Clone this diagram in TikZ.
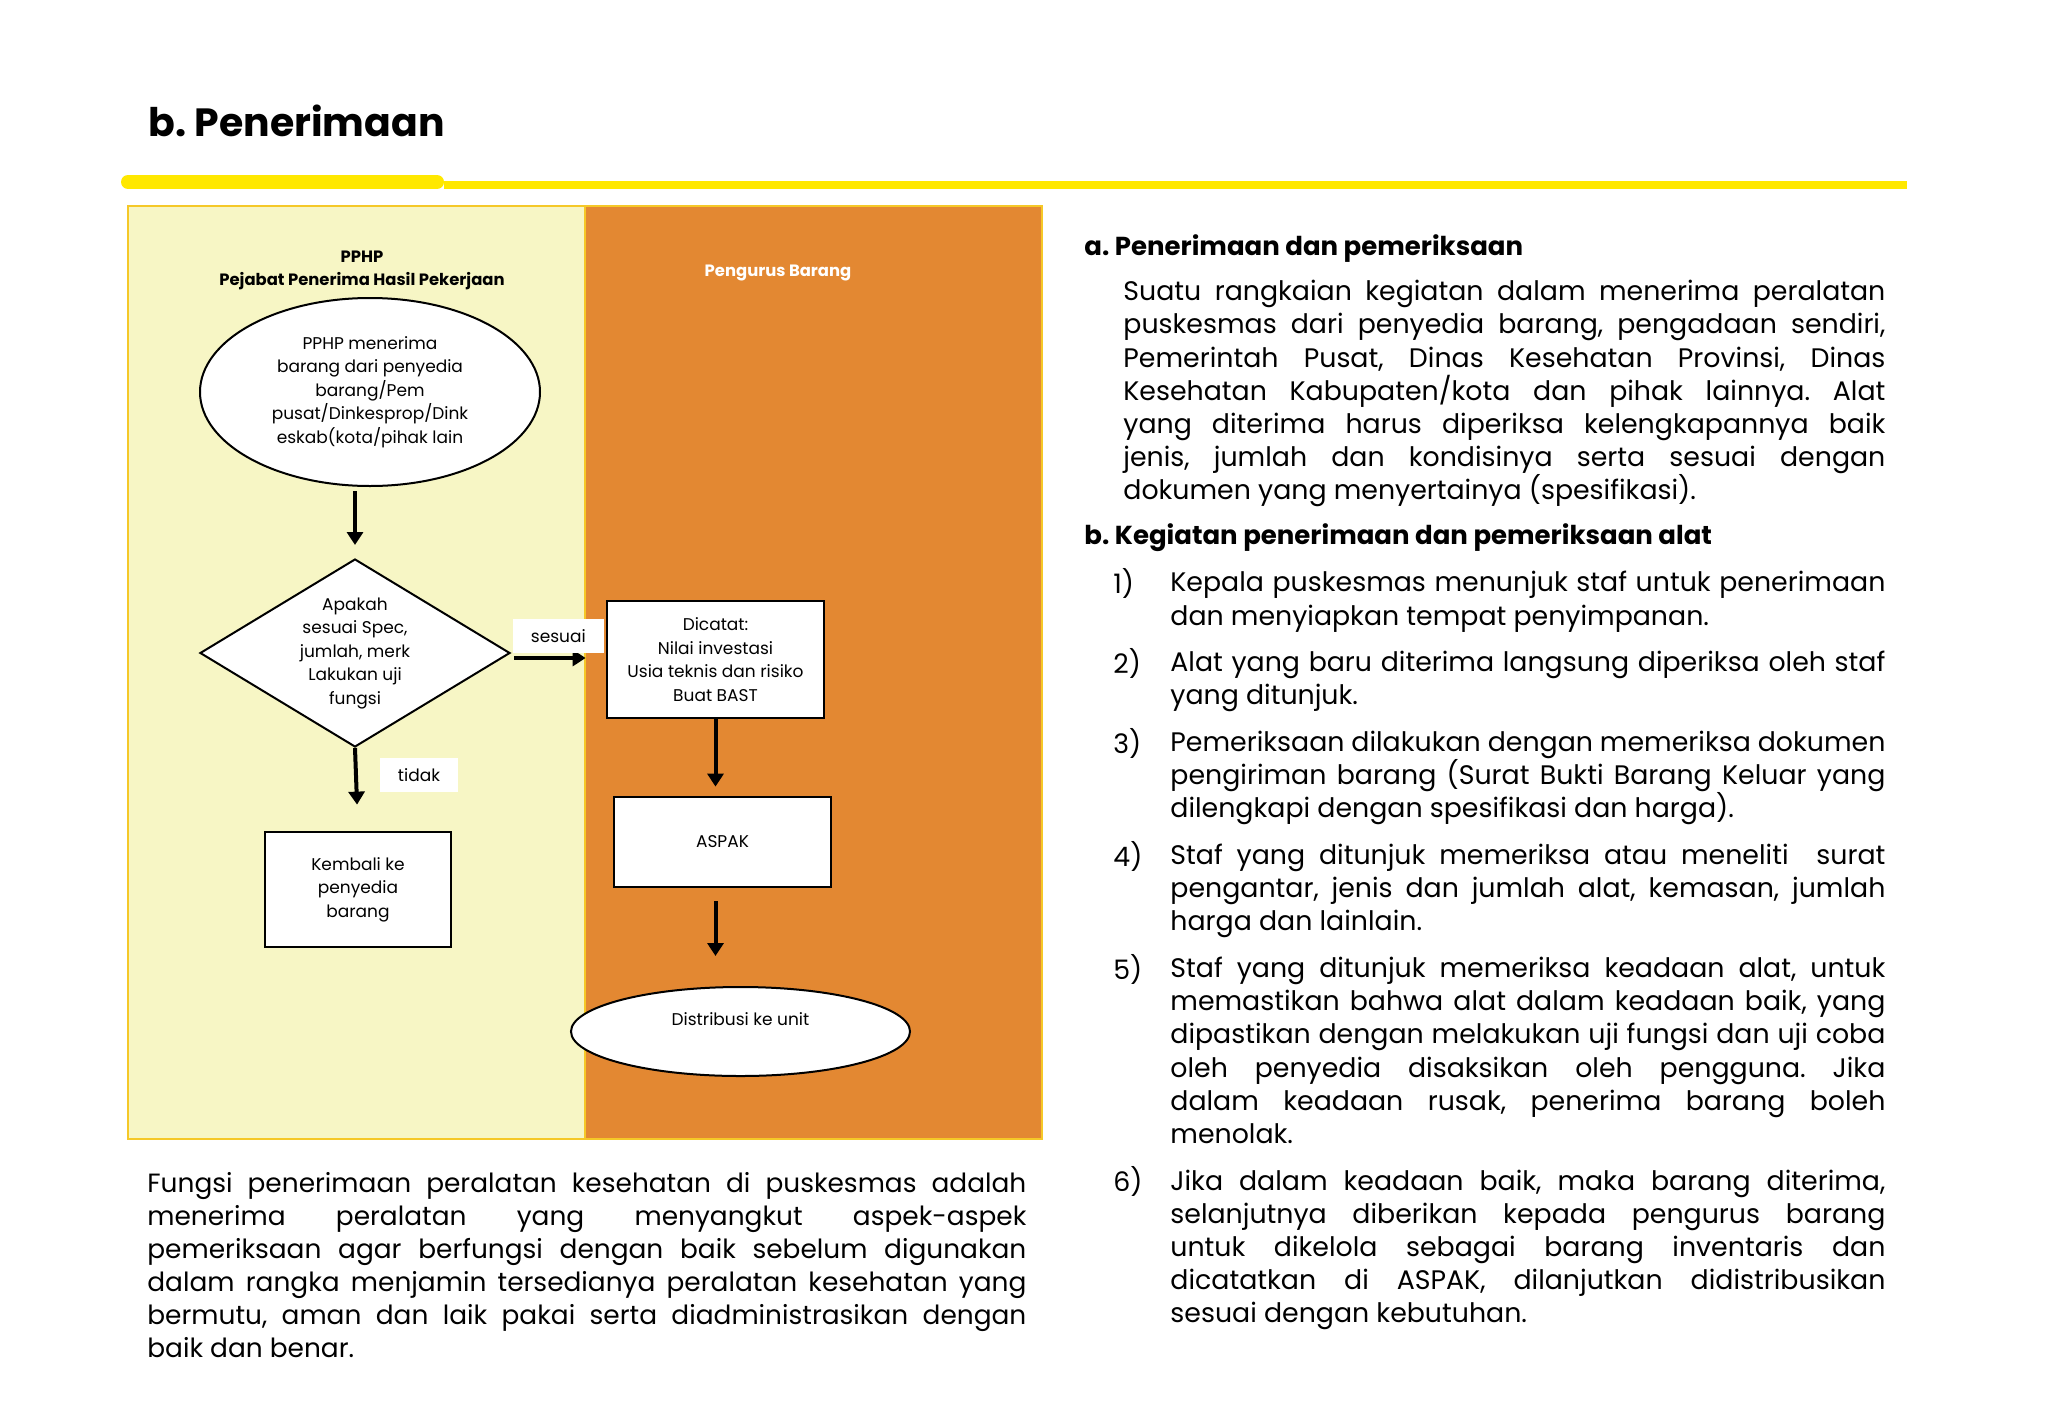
\documentclass[tikz,border=0pt]{standalone}
\usepackage{fontspec}
\setmainfont{Poppins}
\usepackage{tikz}
\usetikzlibrary{arrows.meta,positioning,shapes.geometric}
\definecolor{laneyellow}{RGB}{247,246,197}
\definecolor{laneorange}{RGB}{227,136,50}
\definecolor{laneborder}{RGB}{245,200,40}
\definecolor{baryellow}{RGB}{255,232,0}
\hyphenpenalty=10000
\exhyphenpenalty=10000
\tolerance=10000
\lineskiplimit=-100pt
\normallineskiplimit=-100pt
\lineskip=0pt
\frenchspacing
\newcommand{\parafont}{\fontsize{13.4}{16.6}\selectfont
  \lineskiplimit=-100pt\relax}

\begin{document}
\begin{tikzpicture}[x=0.5pt, y=-0.5pt,
  lane/.style={rectangle, draw=laneborder, line width=1pt,
    minimum width=228.5pt, minimum height=466.5pt, inner sep=0pt},
  lanehead/.style={font=\bfseries\fontsize{8.2}{11.5}\selectfont,
    align=center},
  flowtext/.style={font=\fontsize{8.5}{11.75}\selectfont},
  terminal/.style={ellipse, draw, line width=1pt, fill=white,
    align=center, inner sep=0pt, flowtext},
  decision/.style={diamond, draw, line width=1pt, fill=white,
    minimum width=155pt, minimum height=94pt, aspect=1.65,
    align=center, inner sep=0pt, flowtext},
  process/.style={rectangle, draw, line width=1.4pt, fill=white,
    align=center, inner sep=2pt, flowtext},
  lbl/.style={fill=white, minimum height=17pt, inner xsep=9pt, flowtext},
  arrow/.style={-{Triangle[length=6.5pt,width=8pt]}, line width=2pt},
  heading/.style={font=\bfseries\fontsize{13}{16.6}\selectfont,
    inner sep=0pt},
  para/.style={font=\parafont, align=justify, inner sep=0pt},
  itemnum/.style={anchor=north west, xshift=-28.5pt, inner sep=0pt,
    font=\parafont}
]
\useasboundingbox (0,0) rectangle (2048,1418);

% Title and bar
\node[font=\bfseries\fontsize{19.7}{24}\selectfont, anchor=base west,
  inner sep=0pt] (title) at (148,136) {b. Penerimaan};
\draw[baryellow, line width=7pt, line cap=round] (128,182) -- (437,182);
\draw[baryellow, line width=4pt] (444,185) -- (1907,185);

% Lanes
\node[lane, fill=laneyellow] (lanepphp) at (356.5,672.5) {};
\node[lane, fill=laneorange] (lanebarang) at (813.5,672.5) {};
\node[lanehead] (pphphead) at (362,270.5)
  {PPHP\\Pejabat Penerima Hasil Pekerjaan};
\node[lanehead, text=white] (baranghead) at (778,273) {Pengurus Barang};

% Flow nodes
\node[terminal, minimum width=170pt, minimum height=94pt] (terima)
  at (370,392) {PPHP menerima\\barang dari penyedia\\barang/Pem\\
  pusat/Dinkesprop/Dink\\eskab(kota/pihak lain};
\node[decision] (cek) at (355,653)
  {Apakah\\sesuai Spec,\\jumlah, merk\\Lakukan uji\\fungsi};
\node[process, minimum width=108.5pt, minimum height=58.5pt] (catat)
  at (715.5,659.5)
  {Dicatat:\\Nilai investasi\\Usia teknis dan risiko\\Buat BAST};
\node[process, minimum width=108.5pt, minimum height=45pt] (aspak)
  at (722.5,842) {ASPAK};
\node[terminal, minimum width=169.5pt, minimum height=44.5pt,
  label={[flowtext, yshift=6pt]center:Distribusi ke unit}] (distribusi)
  at (740.5,1031.5) {};
\node[process, minimum width=93pt, minimum height=57.5pt] (kembali)
  at (358,889.5) {Kembali ke\\penyedia\\barang};

% Arrows
\draw[arrow, shorten <=2pt, shorten >=6.5pt]
  (terima.south -| cek.north) -- (cek.north);
\draw[arrow, shorten <=1.5pt, shorten >=10pt]
  ([yshift=-2.5pt]cek.east) -- node[lbl, above=1.5pt] (sesuai) {sesuai}
  ([yshift=-2.5pt]cek.east -| catat.west);
\draw[arrow, shorten >=13pt]
  (cek.south) -- node[lbl, pos=0.33, right=11pt] (tidak) {tidak}
  (kembali.north);
\draw[arrow, shorten >=4.5pt]
  (catat.south) -- (catat.south |- aspak.north);
\draw[arrow, shorten <=6.5pt, shorten >=15pt]
  (catat.south |- aspak.south) -- (catat.south |- distribusi.north);

% Bottom text
\node[para, font=\fontsize{13.2}{16.5}\selectfont, text width=439.5pt,
  below=14.5pt of lanepphp.south west, anchor=north west,
  xshift=10pt] (fungsi)
  {\strut Fungsi penerimaan peralatan kesehatan di puskesmas adalah\linebreak
  menerima peralatan yang menyangkut aspek-aspek\linebreak
  pemeriksaan agar berfungsi dengan baik sebelum digunakan\linebreak
  dalam rangka menjamin tersedianya peralatan kesehatan yang\linebreak
  bermutu, aman dan laik pakai serta diadministrasikan dengan\linebreak
  baik dan benar.\strut};

% Right column
\node[heading, anchor=north west] (heada) at (1084,232)
  {\strut a. Penerimaan dan pemeriksaan};
\node[para, text width=381pt, below=5.5pt of heada.south west,
  anchor=north west, xshift=19.5pt] (paraa)
  {\strut Suatu rangkaian kegiatan dalam menerima peralatan\linebreak
  puskesmas dari penyedia barang, pengadaan sendiri,\linebreak
  Pemerintah Pusat, Dinas Kesehatan Provinsi, Dinas\linebreak
  Kesehatan Kabupaten/kota dan pihak lainnya. Alat\linebreak
  yang diterima harus diperiksa kelengkapannya baik\linebreak
  jenis, jumlah dan kondisinya serta sesuai dengan\linebreak
  dokumen yang menyertainya (spesifikasi).\strut};
\node[heading, below=5.5pt of paraa.south west, anchor=north west,
  xshift=-19.5pt] (headb)
  {\strut b. Kegiatan penerimaan dan pemeriksaan alat};

\node[para, text width=357.5pt, below=6.5pt of headb.south west,
  anchor=north west, xshift=43pt] (item1)
  {\strut Kepala puskesmas menunjuk staf untuk penerimaan\linebreak
  dan menyiapkan tempat penyimpanan.\strut};
\node[para, text width=357.5pt, below=6.3pt of item1.south west,
  anchor=north west] (item2)
  {\strut Alat yang baru diterima langsung diperiksa oleh staf\linebreak
  yang ditunjuk.\strut};
\node[para, text width=357.5pt, below=6.3pt of item2.south west,
  anchor=north west] (item3)
  {\strut Pemeriksaan dilakukan dengan memeriksa dokumen\linebreak
  pengiriman barang (Surat Bukti Barang Keluar yang\linebreak
  dilengkapi dengan spesifikasi dan harga).\strut};
\node[para, text width=357.5pt, below=6.3pt of item3.south west,
  anchor=north west] (item4)
  {\strut Staf yang ditunjuk memeriksa atau meneliti\ \ surat\linebreak
  pengantar, jenis dan jumlah alat, kemasan, jumlah\linebreak
  harga dan lainlain.\strut};
\node[para, text width=357.5pt, below=6.3pt of item4.south west,
  anchor=north west] (item5)
  {\strut Staf yang ditunjuk memeriksa keadaan alat, untuk\linebreak
  memastikan bahwa alat dalam keadaan baik, yang\linebreak
  dipastikan dengan melakukan uji fungsi dan uji coba\linebreak
  oleh penyedia disaksikan oleh pengguna. Jika\linebreak
  dalam keadaan rusak, penerima barang boleh\linebreak
  menolak.\strut};
\node[para, text width=357.5pt, below=6.3pt of item5.south west,
  anchor=north west] (item6)
  {\strut Jika dalam keadaan baik, maka barang diterima,\linebreak
  selanjutnya diberikan kepada pengurus barang\linebreak
  untuk dikelola sebagai barang inventaris dan\linebreak
  dicatatkan di ASPAK, dilanjutkan didistribusikan\linebreak
  sesuai dengan kebutuhan.\strut};

\node[itemnum] (num1) at (item1.north west) {\strut 1)};
\node[itemnum] (num2) at (item2.north west) {\strut 2)};
\node[itemnum] (num3) at (item3.north west) {\strut 3)};
\node[itemnum] (num4) at (item4.north west) {\strut 4)};
\node[itemnum] (num5) at (item5.north west) {\strut 5)};
\node[itemnum] (num6) at (item6.north west) {\strut 6)};
\end{tikzpicture}
\end{document}
